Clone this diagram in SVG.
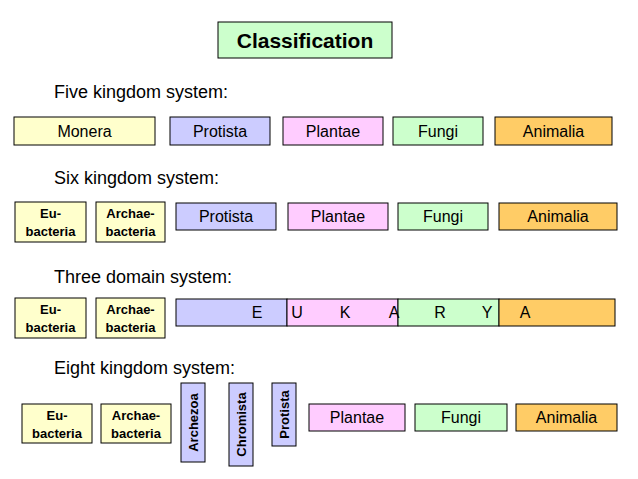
<svg xmlns="http://www.w3.org/2000/svg" width="638" height="479" viewBox="0 0 638 479">
<style>
rect{stroke:#000;stroke-width:1}
.y{fill:#ffffcc}.b{fill:#ccccff}.p{fill:#ffccff}.g{fill:#ccffcc}.o{fill:#ffcc66}
text{font-family:"Liberation Sans",Arial,sans-serif;fill:#000}
.h{font-size:18px}
.n{font-size:16px;text-anchor:middle}
.s{font-size:13px;font-weight:bold;text-anchor:middle}
.v{font-size:13px;font-weight:bold;text-anchor:middle}
</style>
<rect width="638" height="479" fill="#fff" style="stroke:none"/>
<g id="title"><rect x="218" y="22" width="174" height="36" class="g"/><text x="305" y="48" style="font-size:21px;font-weight:bold;text-anchor:middle">Classification</text></g>
<g id="headings">
<text class="h" x="54" y="98">Five kingdom system:</text>
<text class="h" x="54" y="184">Six kingdom system:</text>
<text class="h" x="54" y="283">Three domain system:</text>
<text class="h" x="54" y="374">Eight kingdom system:</text>
</g>
<g id="five">
<g id="f-monera"><rect x="14" y="117" width="141" height="28" class="y"/><text class="n" x="84.5" y="137">Monera</text></g>
<g id="f-protista"><rect x="170" y="117" width="100" height="28" class="b"/><text class="n" x="220" y="137">Protista</text></g>
<g id="f-plantae"><rect x="283" y="117" width="100" height="28" class="p"/><text class="n" x="333" y="137">Plantae</text></g>
<g id="f-fungi"><rect x="393" y="117" width="90" height="28" class="g"/><text class="n" x="438" y="137">Fungi</text></g>
<g id="f-animalia"><rect x="495" y="117" width="117" height="28" class="o"/><text class="n" x="553.5" y="137">Animalia</text></g>
</g>
<g id="six">
<g id="s-eu"><rect x="15" y="202" width="71" height="40" class="y"/><text class="s" x="50.5" y="218">Eu-</text><text class="s" x="50.5" y="236">bacteria</text></g>
<g id="s-ar"><rect x="96" y="202" width="69" height="40" class="y"/><text class="s" x="130.5" y="218">Archae-</text><text class="s" x="130.5" y="236">bacteria</text></g>
<g id="s-protista"><rect x="176" y="203" width="100" height="27" class="b"/><text class="n" x="226" y="222">Protista</text></g>
<g id="s-plantae"><rect x="288" y="203" width="100" height="27" class="p"/><text class="n" x="338" y="222">Plantae</text></g>
<g id="s-fungi"><rect x="398" y="203" width="90" height="27" class="g"/><text class="n" x="443" y="222">Fungi</text></g>
<g id="s-animalia"><rect x="499" y="203" width="118" height="27" class="o"/><text class="n" x="558" y="222">Animalia</text></g>
</g>
<g id="three">
<g id="t-eu"><rect x="15" y="298" width="71" height="40" class="y"/><text class="s" x="50.5" y="314">Eu-</text><text class="s" x="50.5" y="332">bacteria</text></g>
<g id="t-ar"><rect x="96" y="298" width="69" height="40" class="y"/><text class="s" x="130.5" y="314">Archae-</text><text class="s" x="130.5" y="332">bacteria</text></g>
<g id="t-eukarya">
<rect x="176" y="299" width="111" height="27" class="b"/>
<rect x="287" y="299" width="111" height="27" class="p"/>
<rect x="398" y="299" width="101" height="27" class="g"/>
<rect x="499" y="299" width="116" height="27" class="o"/>
<text class="n" x="257" y="318">E</text><text class="n" x="297" y="318">U</text><text class="n" x="345" y="318">K</text><text class="n" x="394" y="318">A</text><text class="n" x="440" y="318">R</text><text class="n" x="487" y="318">Y</text><text class="n" x="525" y="318">A</text>
</g>
</g>
<g id="eight">
<g id="e-eu"><rect x="22" y="404" width="70" height="39" class="y"/><text class="s" x="57" y="420">Eu-</text><text class="s" x="57" y="438">bacteria</text></g>
<g id="e-ar"><rect x="101" y="404" width="70" height="39" class="y"/><text class="s" x="136" y="420">Archae-</text><text class="s" x="136" y="438">bacteria</text></g>
<g id="e-archezoa"><rect x="181" y="383" width="24" height="79" class="b"/><text class="v" transform="translate(198,422.5) rotate(-90)">Archezoa</text></g>
<g id="e-chromista"><rect x="229" y="383" width="24" height="83" class="b"/><text class="v" transform="translate(246,424.5) rotate(-90)">Chromista</text></g>
<g id="e-protista"><rect x="272" y="383" width="24" height="63" class="b"/><text class="v" transform="translate(289,414.5) rotate(-90)">Protista</text></g>
<g id="e-plantae"><rect x="309" y="404" width="96" height="27" class="p"/><text class="n" x="357" y="423">Plantae</text></g>
<g id="e-fungi"><rect x="415" y="404" width="92" height="27" class="g"/><text class="n" x="461" y="423">Fungi</text></g>
<g id="e-animalia"><rect x="516" y="404" width="101" height="27" class="o"/><text class="n" x="566.5" y="423">Animalia</text></g>
</g>
<g id="connectors"/>
</svg>
